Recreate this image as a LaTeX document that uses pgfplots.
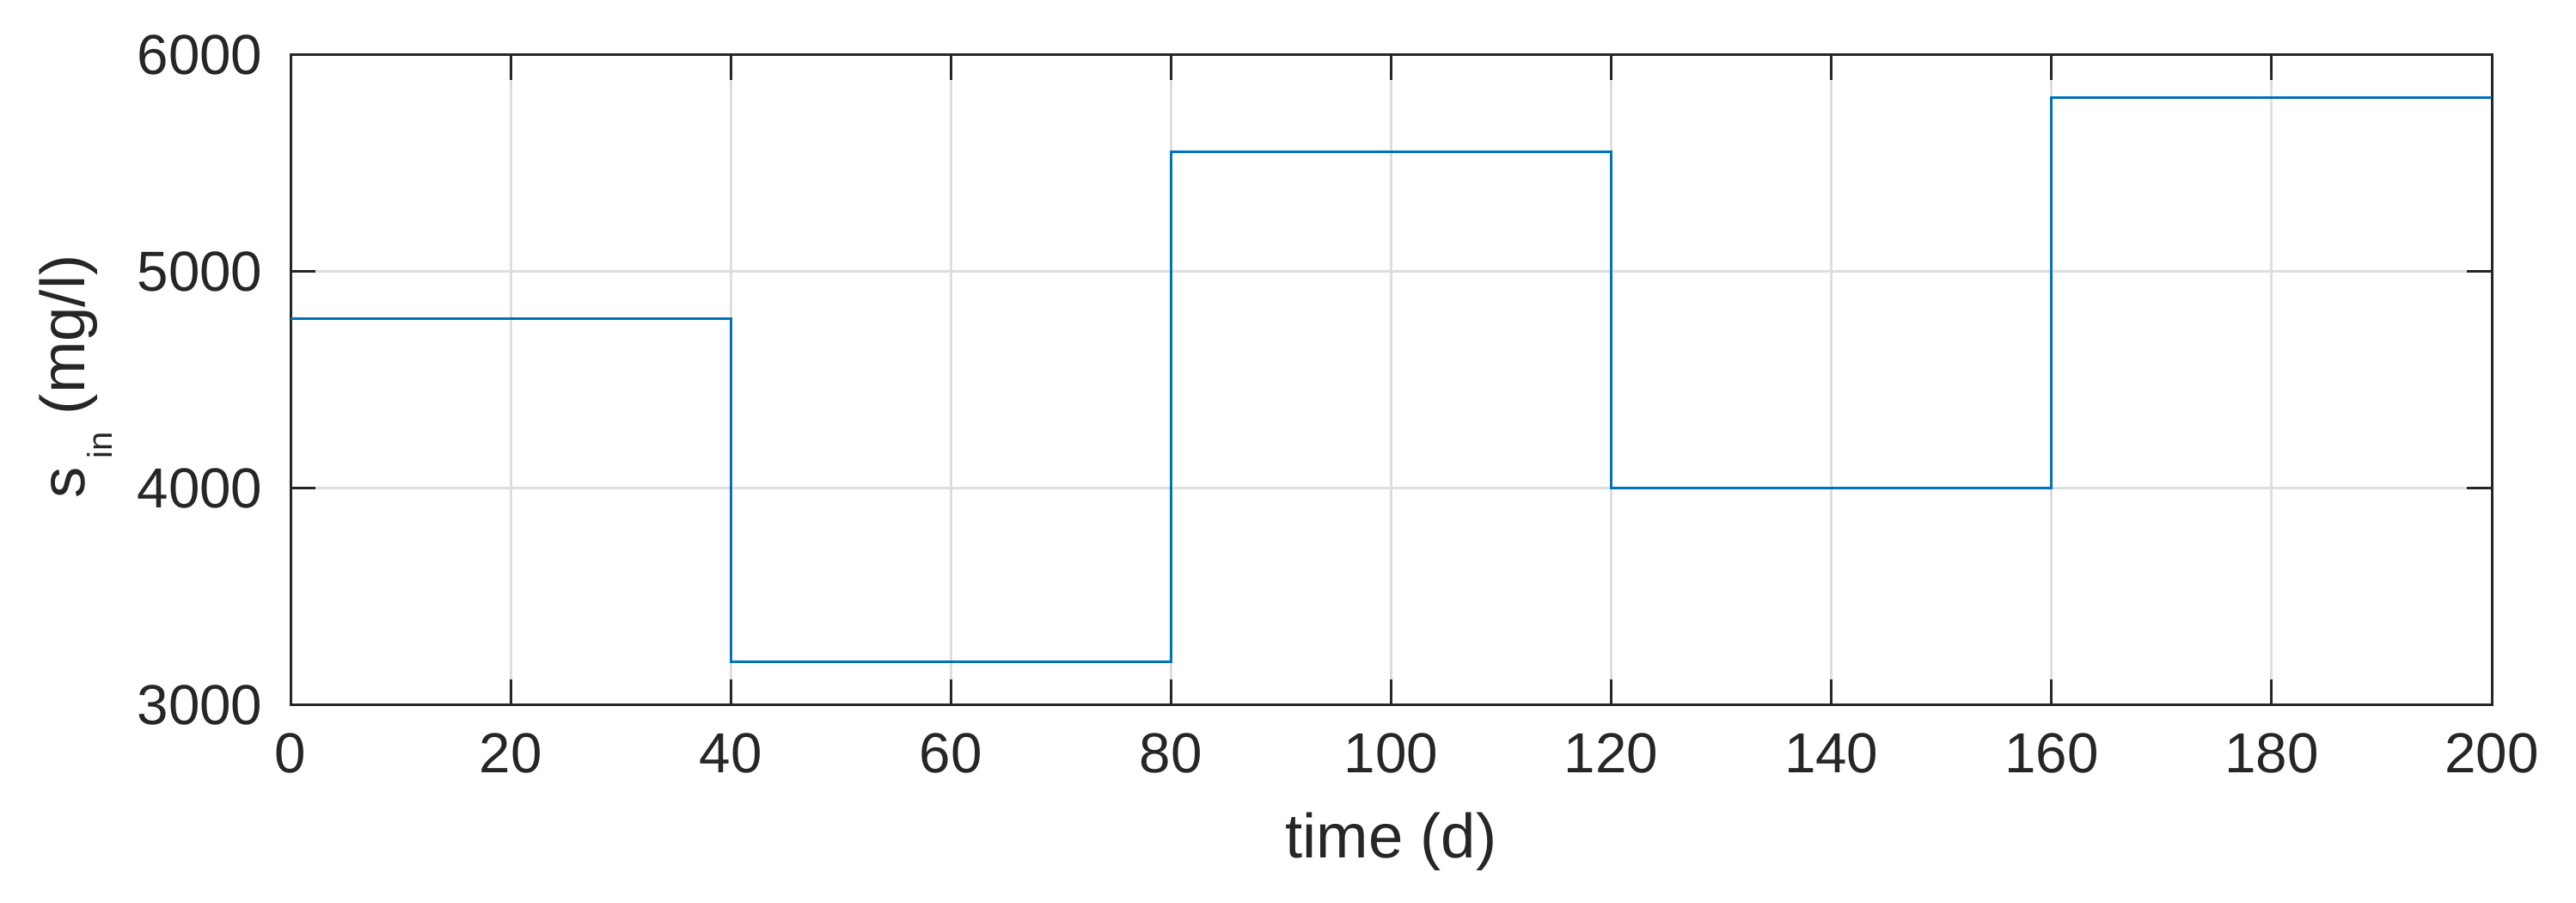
\documentclass[border=0pt]{standalone}
\usepackage{fontspec}
\setmainfont{Liberation Sans}
\usepackage{pgfplots}
\pgfplotsset{compat=1.18}
\usetikzlibrary{calc}
\definecolor{mblue}{RGB}{0,114,189}
\definecolor{axgray}{RGB}{38,38,38}
\definecolor{gridgray}{RGB}{222,222,222}
\begin{document}
\begin{tikzpicture}
\begin{axis}[name=ax, scale only axis, width=307.32pt, height=90.72pt,
  xmin=0, xmax=200, ymin=3000, ymax=6000,
  xtick={0,20,...,200}, ytick={3000,4000,5000,6000},
  tick align=inside, major tick length=3.5pt,
  axis line style={axgray, line width=0.36pt},
  tick style={axgray, line width=0.36pt},
  grid=major, major grid style={gridgray, line width=0.36pt},
  tick label style={font=\fontsize{7.87}{9}\selectfont, text=axgray},
  /pgf/number format/assume math mode=true,
  /pgf/number format/1000 sep={},
  xticklabel style={inner sep=0pt, anchor=north, yshift=-3.84pt},
  yticklabel style={inner sep=0pt, anchor=east, xshift=-3.7pt},
]
\addplot[const plot, mblue, line width=0.36pt] coordinates {
  (0,4780) (40,3200) (80,5550) (120,4000) (160,5800) (200,5800)
};
\end{axis}
\node[anchor=base, inner sep=0pt, font=\fontsize{8.71}{10}\selectfont, text=axgray]
  at ($(ax.south)+(0,-21.4pt)$) {time (d)};
\node[rotate=90, anchor=base, inner sep=0pt, font=\fontsize{8.71}{10}\selectfont, text=axgray]
  at ($(ax.west)+(-28.8pt,0.4pt)$) {s\hspace{1.2pt}\raisebox{-3.9pt}{\fontsize{4.8}{5}\selectfont in} (mg/l)};
\pgfresetboundingbox
\path ($(ax.south west)+(-40.56pt,-27.65pt)$) rectangle ($(ax.north east)+(11.76pt,7.62pt)$);
\end{tikzpicture}
\end{document}
